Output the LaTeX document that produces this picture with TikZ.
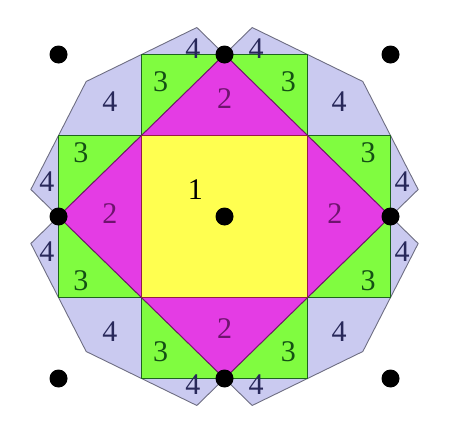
\documentclass[tikz,border=0pt]{standalone}
\usepackage{fontspec}
\setmainfont{Liberation Serif}
\definecolor{cyel}{RGB}{255,255,80}
\definecolor{cmag}{RGB}{228,60,228}
\definecolor{cgrn}{RGB}{128,252,64}
\definecolor{clav}{RGB}{202,202,240}
\definecolor{lyel}{RGB}{150,30,70}
\definecolor{lmag}{RGB}{120,20,110}
\definecolor{lgrn}{RGB}{30,100,30}
\definecolor{llav}{RGB}{110,110,130}
\definecolor{tfour}{RGB}{40,40,90}
\definecolor{tthree}{RGB}{20,80,20}
\definecolor{ttwo}{RGB}{110,20,110}
\begin{document}
\begin{tikzpicture}[x=83pt,y=81pt,
  lavpiece/.style={fill=clav,draw=llav,line width=0.9pt,line join=round},
  grnpiece/.style={fill=cgrn,draw=lgrn,line width=0.9pt,line join=round},
  magpiece/.style={fill=cmag,draw=lmag,line width=0.9pt,line join=round},
  yelpiece/.style={fill=cyel,draw=lyel,line width=0.9pt},
  lab/.style={inner sep=0pt,font=\fontsize{30}{30}\selectfont},
  dot/.style={circle,fill=black,inner sep=0pt,minimum size=18pt}]
\useasboundingbox (-2.705,-2.611) rectangle (3.006,2.673);
% quadrant pieces
\foreach \sx/\sy/\q in {1/1/a,-1/1/b,-1/-1/c,1/-1/d}{
  \draw[lavpiece] (\sx*1,\sy*1) -- (\sx*1,\sy*2) -- (\sx*5/3,\sy*5/3) -- (\sx*2,\sy*1) -- cycle;
  \draw[lavpiece] (\sx*1,\sy*2) -- (\sx*1/3,\sy*7/3) -- (0,\sy*2) -- cycle;
  \draw[lavpiece] (\sx*2,\sy*1) -- (\sx*7/3,\sy*1/3) -- (\sx*2,0) -- cycle;
  \draw[grnpiece] (\sx*1,\sy*1) -- (\sx*1,\sy*2) -- (0,\sy*2) -- cycle;
  \draw[grnpiece] (\sx*2,0) -- (\sx*2,\sy*1) -- (\sx*1,\sy*1) -- cycle;
  \node[lab,text=tfour] (four\q) at (\sx*1.38,\sy*1.42) {4};
  \node[lab,text=tfour] (fourt\q) at (\sx*0.38,\sy*2.07) {4};
  \node[lab,text=tfour] (fours\q) at (\sx*2.14,\sy*0.43) {4};
  \node[lab,text=tthree] (threet\q) at (\sx*0.77,\sy*1.67) {3};
  \node[lab,text=tthree] (threes\q) at (\sx*1.73,\sy*0.79) {3};
}
% magenta triangles
\draw[magpiece] (-1,1) -- (1,1) -- (0,2) -- cycle;
\draw[magpiece] (-1,-1) -- (1,-1) -- (0,-2) -- cycle;
\draw[magpiece] (-1,-1) -- (-1,1) -- (-2,0) -- cycle;
\draw[magpiece] (1,-1) -- (1,1) -- (2,0) -- cycle;
% yellow square
\draw[yelpiece] (-1,-1) rectangle (1,1);
% labels 2 and 1
\node[lab,text=ttwo] (twot) at (0,1.45) {2};
\node[lab,text=ttwo] (twob) at (0,-1.38) {2};
\node[lab,text=ttwo] (twol) at (-1.38,0.04) {2};
\node[lab,text=ttwo] (twor) at (1.33,0.04) {2};
\node[lab,text=black] (one) at (-0.35,0.33) {1};
% lattice points
\node[dot] (p0) at (0,0) {};
\node[dot] (pn) at (0,2) {};
\node[dot] (ps) at (0,-2) {};
\node[dot] (pw) at (-2,0) {};
\node[dot] (pe) at (2,0) {};
\node[dot] (pnw) at (-2,2) {};
\node[dot] (pne) at (2,2) {};
\node[dot] (psw) at (-2,-2) {};
\node[dot] (pse) at (2,-2) {};
\end{tikzpicture}
\end{document}
